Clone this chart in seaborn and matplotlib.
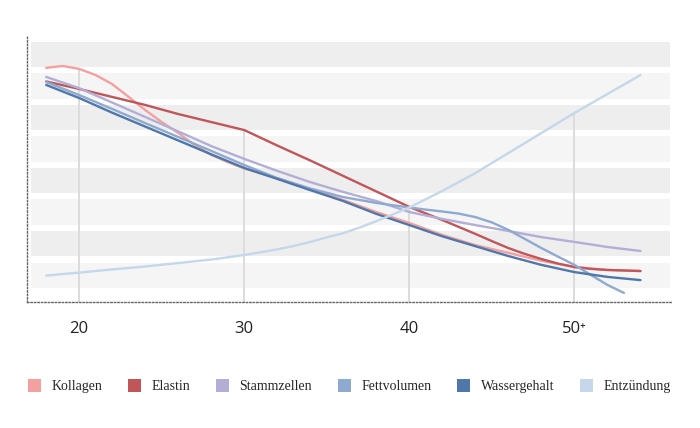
import matplotlib
matplotlib.use("Agg")
import numpy as np
import pandas as pd
import matplotlib.pyplot as plt
import seaborn as sns
from matplotlib.patches import Patch

# ----------------------------
# DATA
# ----------------------------

ages = [18, 20, 22, 24, 26, 28, 30, 32, 34, 36, 38, 40, 42, 44, 46, 48, 50, 52, 54]

kollagen_ages = [18, 19, 20, 21, 22, 23, 24, 25, 26, 27, 28, 29, 30, 32, 34, 36, 38, 40,
                 42, 44, 46, 48, 50, 52, 54]
kollagen = [87.7, 88.4, 87.3, 85.0, 81.6, 76.8, 71.9, 67.4, 63.3, 58.8, 55.1, 52.4, 50.0,
            46.4, 42.3, 38.2, 33.7, 29.6, 25.1, 21.3, 18.4, 15.4, 13.1, 12.0, 11.6]

elastin_ages = [18, 20, 22, 24, 26, 28, 30, 32, 34, 36, 38, 40, 42, 44, 45, 46, 47, 48,
                49, 50, 51, 52, 54]
elastin = [82.6, 79.8, 76.8, 73.8, 70.4, 67.4, 64.4, 58.6, 53.0, 47.2, 41.4, 35.6, 30.7,
           25.5, 22.8, 20.2, 18.0, 16.1, 14.4, 13.1, 12.4, 12.0, 11.6]

stammzellen = [84.3, 80.1, 74.7, 69.3, 63.9, 58.4, 53.6, 49.1, 44.9, 41.2, 37.8, 33.7,
               31.1, 28.8, 26.6, 24.3, 22.5, 20.6, 19.1]

fett_ages = [18, 20, 22, 24, 26, 28, 30, 32, 34, 36, 38, 40, 41, 42, 43, 44, 45, 46, 47,
             48, 49, 50, 51, 52, 53]
fettvolumen = [82.4, 77.5, 72.3, 67.0, 61.8, 56.6, 51.3, 46.4, 42.5, 39.3, 37.1, 35.4,
               34.6, 33.9, 33.1, 31.8, 29.8, 27.0, 23.6, 20.2, 17.0, 13.9, 10.1, 6.4, 3.4]

wassergehalt = [81.3, 76.4, 70.9, 65.7, 60.5, 55.3, 50.2, 46.1, 41.9, 37.8, 33.0, 28.8,
                24.6, 20.9, 17.2, 13.9, 11.2, 9.4, 8.2]

entz_ages = [18, 20, 22, 24, 26, 28, 30, 32, 33, 34, 35, 36, 37, 38, 39, 40, 42, 44, 46,
             48, 50, 52, 54]
entzuendung = [9.9, 11.0, 12.2, 13.3, 14.6, 15.9, 17.6, 19.7, 21.0, 22.5, 24.2, 25.8,
               27.9, 30.3, 32.8, 35.4, 41.6, 48.3, 55.8, 63.3, 70.8, 77.9, 85.0]

series_names = ["Kollagen", "Elastin", "Stammzellen", "Fettvolumen", "Wassergehalt", "Entzündung"]
series_colors = ["#f4a0a0", "#c0565a", "#b3aed6", "#8eaad0", "#5077aa", "#c5d7ea"]

tick_ages = [20, 30, 40, 50]
tick_labels = ["20", "30", "40", "50⁺"]

# long table for seaborn
frames = []
for name, xs, ys in zip(series_names,
                        [kollagen_ages, elastin_ages, ages, fett_ages, ages, entz_ages],
                        [kollagen, elastin, stammzellen, fettvolumen, wassergehalt, entzuendung]):
    frames.append(pd.DataFrame({"age": xs, "value": ys, "series": name}))
df = pd.concat(frames, ignore_index=True)

# ----------------------------
# PLOT
# ----------------------------

sns.set_style("white")
plt.rcParams["font.family"] = ["Open Sans", "DejaVu Sans"]

fig = plt.figure(figsize=(7, 4.28), dpi=100)
ax = fig.add_axes([27 / 700, 126 / 428, 645 / 700, 267 / 428])

# alternating background bands
band_bottom = 5.24
band_step = 11.82
band_height = 9.55
for i in range(8):
    b = band_bottom + i * band_step
    ax.axhspan(b, b + band_height, xmin=0.006, xmax=0.997,
               color="#f5f5f5" if i % 2 == 0 else "#eeeeee", lw=0, zorder=0)

# drop lines at the ticks, up to the highest series
for t in tick_ages:
    top = df.loc[df["age"] == t, "value"].max()
    ax.vlines(t, 0, top, color="#dcdcdc", lw=1.4, zorder=1)

sns.lineplot(data=df, x="age", y="value", hue="series", hue_order=series_names,
             palette=series_colors, linewidth=1.7, sort=False, legend=False,
             estimator=None, ax=ax, zorder=3)

ax.set_xlim(16.84, 55.91)
ax.set_ylim(0, 100)
ax.set_xlabel("")
ax.set_ylabel("")
ax.set_yticks([])
ax.set_xticks(tick_ages)
ax.set_xticklabels(tick_labels, fontsize=12, color="#222222")
ax.tick_params(axis="x", direction="out", length=7.5, width=1.2, color="#222222", pad=6)

for s in ["top", "right"]:
    ax.spines[s].set_visible(False)
for s in ["left", "bottom"]:
    ax.spines[s].set_linestyle((0, (1, 1.5)))
    ax.spines[s].set_color("#666666")
    ax.spines[s].set_linewidth(1.0)

handles = [Patch(facecolor=c, edgecolor="none") for c in series_colors]
fig.legend(handles, series_names, loc="center", bbox_to_anchor=(0.499, 0.098),
           ncol=6, frameon=False, handlelength=0.95, handleheight=1.1,
           handletextpad=0.75, columnspacing=1.85,
           prop={"family": "Liberation Serif", "size": 10})

fig.savefig("out.png", dpi=100)
